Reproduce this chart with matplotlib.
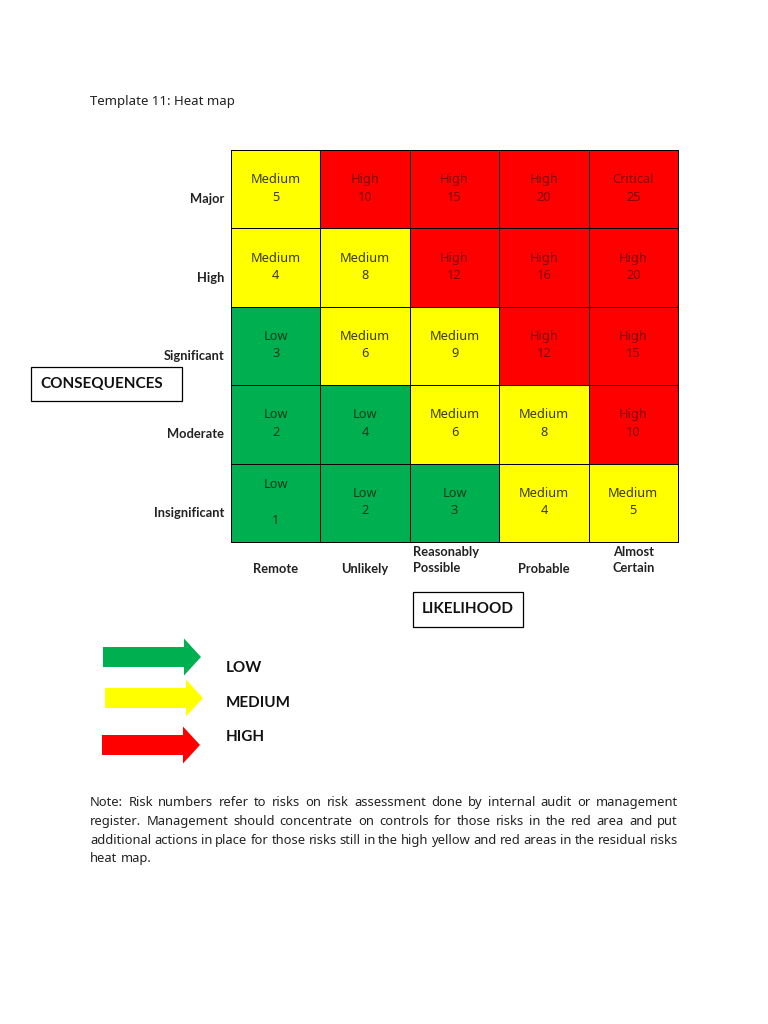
import matplotlib
matplotlib.use("Agg")
import matplotlib.pyplot as plt
import matplotlib.patches as mpatches
from matplotlib.colors import ListedColormap
import numpy as np

# data
likelihood = ["Remote", "Unlikely", "Reasonably\nPossible", "Probable", "Almost\nCertain"]
consequences = ["Major", "High", "Significant", "Moderate", "Insignificant"]
scores = [[5, 10, 15, 20, 25],
          [4, 8, 12, 16, 20],
          [3, 6, 9, 12, 15],
          [2, 4, 6, 8, 10],
          [1, 2, 3, 4, 5]]
levels = [["Medium", "High", "High", "High", "Critical"],
          ["Medium", "Medium", "High", "High", "High"],
          ["Low", "Medium", "Medium", "High", "High"],
          ["Low", "Low", "Medium", "Medium", "High"],
          ["Low", "Low", "Low", "Medium", "Medium"]]
legend_labels = ["LOW", "MEDIUM", "HIGH"]
note_lines = [
    "Note: Risk numbers refer to risks on risk assessment done by internal audit or management",
    "register. Management should concentrate on controls for those risks in the red area and put",
    "additional actions in place for those risks still in the high yellow and red areas in the residual risks",
    "heat map.",
]

level_code = {"Low": 0, "Medium": 1, "High": 2, "Critical": 2}
fill = ["#00B050", "#FFFF00", "#FF0000"]
ink = ["#0B3D1A", "#3A3A00", "#800000"]

body = "Noto Sans"
bold = "Lato"

fig = plt.figure(figsize=(7.68, 10.24), dpi=100)
bg = fig.add_axes([0, 0, 1, 1])
bg.set_xlim(0, 768)
bg.set_ylim(1024, 0)
bg.axis("off")

bg.text(90, 101, "Template 11: Heat map", fontsize=9.5, family=body, va="center", color="#222222")

# heat map grid
L, R, T, B = 231, 678, 150, 542
ax = fig.add_axes([L / 768, 1 - B / 1024, (R - L) / 768, (B - T) / 1024])
codes = np.array([[level_code[v] for v in row] for row in levels])
mesh = ax.pcolormesh(codes, cmap=ListedColormap(fill), vmin=-0.5, vmax=2.5,
                     edgecolors="black", linewidth=0.7)
mesh.set_clip_on(False)
ax.set_xlim(0, 5)
ax.set_ylim(5, 0)
ax.axis("off")

fs = 9.2
for r in range(5):
    for c in range(5):
        k = level_code[levels[r][c]]
        if r == 4 and c == 0:
            ya, yb = r + 0.27, r + 0.72
        else:
            ya, yb = r + 0.38, r + 0.60
        ax.text(c + 0.5, ya, levels[r][c], ha="center", va="center", fontsize=fs, family=body, color=ink[k])
        ax.text(c + 0.5, yb, str(scores[r][c]), ha="center", va="center", fontsize=fs, family=body, color=ink[k])

cell_h = (B - T) / 5
cell_w = (R - L) / 5
for r, name in enumerate(consequences):
    bg.text(224, T + cell_h * (r + 0.5) + 10, name, ha="right", va="center",
            fontsize=9.3, family=bold, weight="bold", color="#222222")

for c, name in enumerate(likelihood):
    x = L + cell_w * (c + 0.5)
    if "\n" in name:
        if c == 2:
            bg.text(413, 560, name, ha="left", va="center", fontsize=9.3, family=bold,
                    weight="bold", color="#222222", linespacing=1.45)
        else:
            bg.text(x, 560, name, ha="center", va="center", fontsize=9.3, family=bold,
                    weight="bold", color="#222222", linespacing=1.45)
    else:
        bg.text(x, 569, name, ha="center", va="center", fontsize=9.3, family=bold,
                weight="bold", color="#222222")

# axis title boxes
bg.add_patch(mpatches.Rectangle((31, 367), 151, 34, fill=False, edgecolor="black", linewidth=0.9))
bg.text(40, 384, "CONSEQUENCES", va="center", fontsize=11, family=bold, weight="bold", color="#111111")
bg.add_patch(mpatches.Rectangle((413, 592), 110, 35, fill=False, edgecolor="black", linewidth=0.9))
bg.text(468, 609, "LIKELIHOOD", ha="center", va="center", fontsize=11, family=bold, weight="bold", color="#111111")

# legend arrows
arrow_y = [657, 698, 745]
arrow_x = [103, 105, 102]
text_y = [668, 703, 737]
for i, lab in enumerate(legend_labels):
    bg.add_patch(mpatches.FancyArrow(arrow_x[i], arrow_y[i], 98, 0, width=20, head_width=37,
                                     head_length=17, length_includes_head=True,
                                     facecolor=fill[i], edgecolor="none"))
    bg.text(226, text_y[i], lab, va="center", fontsize=11, family=bold, weight="bold", color="#111111")

# justified note text
fig.canvas.draw()
renderer = fig.canvas.get_renderer()
x0, x1 = 90, 678
line_y = [806, 825, 844, 862]
nfs = 9.3
for j, line in enumerate(note_lines):
    words = line.split(" ")
    objs = [bg.text(x0, line_y[j], w, va="baseline", fontsize=nfs, family=body, color="#222222") for w in words]
    widths = [o.get_window_extent(renderer).width for o in objs]
    if j < len(note_lines) - 1:
        gap = (x1 - x0 - sum(widths)) / (len(words) - 1)
    else:
        space = bg.text(0, 0, "a a", fontsize=nfs, family=body)
        one = bg.text(0, 0, "aa", fontsize=nfs, family=body)
        gap = space.get_window_extent(renderer).width - one.get_window_extent(renderer).width
        space.remove()
        one.remove()
    x = x0
    for o, w in zip(objs, widths):
        o.set_x(x)
        x += w + gap

fig.savefig("out.png", dpi=100)
